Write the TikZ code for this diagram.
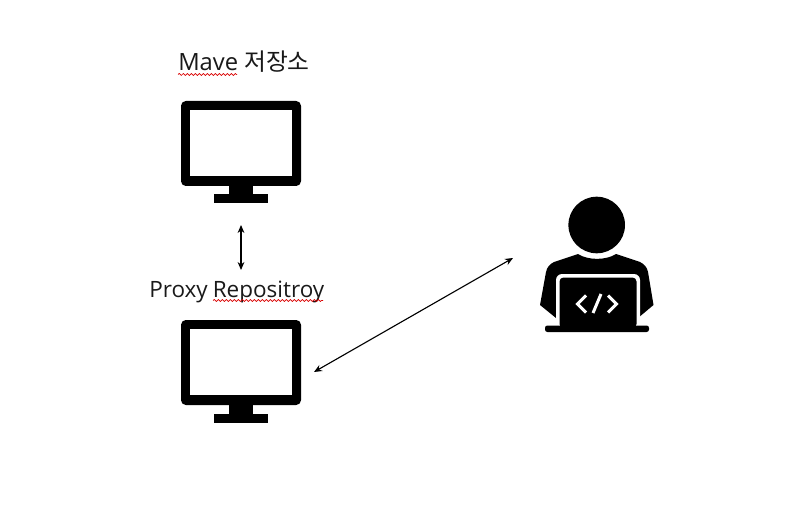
\documentclass[tikz,border=0pt]{standalone}
\usepackage{fontspec}
\setmainfont{Open Sans}
\newfontfamily\cjk{Noto Sans CJK KR}
\usetikzlibrary{positioning}
\usetikzlibrary{arrows.meta}
\usetikzlibrary{decorations.pathmorphing}
\tikzstyle{sketch} = [x = .025cm, y = -.025cm]
\tikzstyle{iconFill} = [fill=black, draw=none]
\tikzstyle{iconCut} = [fill=white, draw=none]
\tikzstyle{iconCode} = [color=white, line width=.075cm]
\tikzstyle{linkLine} = [color=black, line width=.8pt, {Stealth[length=.2cm, width=.17cm]}-{Stealth[length=.2cm, width=.17cm]}]
\tikzstyle{labelText} = [font=\fontsize{16.9}{20}\selectfont, inner sep=0pt, text=black!90]
\tikzstyle{proxyText} = [labelText, font=\fontsize{16}{20}\selectfont]
\tikzstyle{spellLine} = [color=red!85!black, line width=.5pt, decorate, decoration={snake, amplitude=.025cm, segment length=.1cm}]
\newcommand{\monitor}[2]{
  \filldraw [iconFill, rounded corners = .12cm] (#1, #2) rectangle + (120, 85);
  \filldraw [iconCut] (#1 + 9, #2 + 9) rectangle + (102, 66);
  \filldraw [iconFill] (#1 + 48, #2 + 84) rectangle + (24, 10);
  \filldraw [iconFill] (#1 + 33, #2 + 93.5) rectangle + (54, 9);
}
\begin{document}
\begin{tikzpicture}[sketch]
  \useasboundingbox (0, 0) rectangle (800, 511);
  \monitor{181}{101}
  \monitor{181}{320}

  % developer
  \filldraw [iconFill] (596.7, 225) circle (28.3);
  \filldraw [iconFill] (578, 254) .. controls (588, 260.5) and (606, 260.5) .. (616, 254)
    -- (640, 262) .. controls (644, 264) and (647, 267) .. (648, 272)
    -- (653.5, 305) -- (638, 318) -- (556, 318) -- (540, 305) -- (546, 272)
    .. controls (547, 267) and (550, 264) .. (554, 262) -- cycle;
  \filldraw [iconCut, rounded corners = .15cm] (556, 274) rectangle (640, 328);
  \filldraw [iconFill, rounded corners = .1cm] (559.5, 277.5) rectangle (636.5, 328);
  \filldraw [iconFill, rounded corners = .06cm] (545, 325.5) rectangle (649, 332);
  \draw [iconCode] (586, 295.5) -- (577.5, 304) -- (586, 312.5);
  \draw [iconCode] (601, 294) -- (593, 313);
  \draw [iconCode] (608, 295.5) -- (616.5, 304) -- (608, 312.5);

  \node [labelText, anchor=base west] (mavenLabel) at (178, 71) {Mave\hspace{.15cm}{\cjk 저장소}};
  \node [proxyText, anchor=base west] (proxyLabel) at (149, 297) {Proxy\hspace{.125cm}Repositroy};
  \draw [spellLine] (178, 74.5) -- (237, 74.5);
  \draw [spellLine] (213, 300.5) -- (323, 300.5);

  \coordinate (mavenEnd) at (241, 225);
  \coordinate (proxyEnd) at (241, 270);
  \coordinate (proxyLink) at (314, 372);
  \coordinate (userLink) at (513, 258);
  \draw [linkLine] (mavenEnd) -- (proxyEnd);
  \draw [linkLine] (proxyLink) -- (userLink);
\end{tikzpicture}
\end{document}
